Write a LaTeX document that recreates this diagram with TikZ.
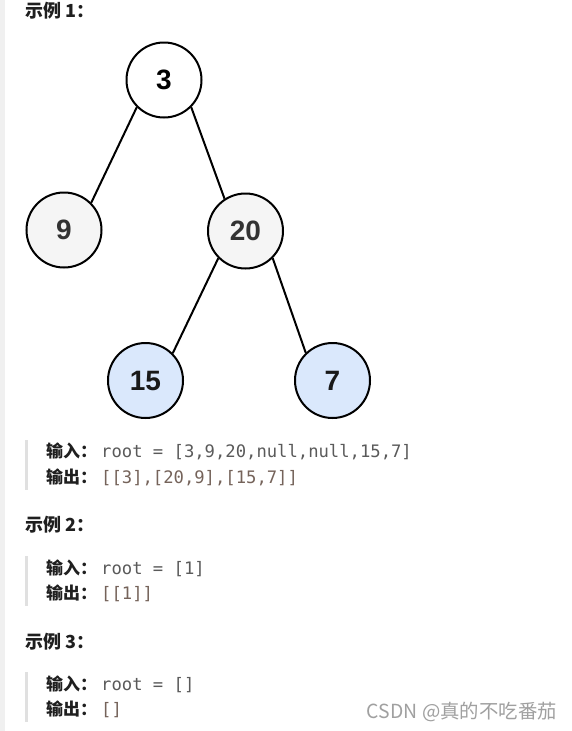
\documentclass[tikz,border=0pt]{standalone}
\usepackage{fontspec}
\setmainfont{Liberation Sans}
\newfontfamily\cjk{Noto Sans CJK SC}
\newfontfamily\codefont{DejaVu Sans Mono}
\definecolor{leafblue}{HTML}{DAE8FC}
\definecolor{midgray}{HTML}{F5F5F5}
\definecolor{barcol}{HTML}{E0E0E0}
\definecolor{pagebar}{HTML}{F0F0F0}
\definecolor{codein}{HTML}{5A5A5A}
\definecolor{codeout}{HTML}{75635A}
\definecolor{wmark}{HTML}{A0A0A0}
\tikzset{
  treenode/.style={circle, draw=black, line width=2pt, minimum size=75pt, inner sep=0pt,
    font=\fontsize{28}{30}\selectfont\bfseries},
  edgeline/.style={line width=2pt, draw=black},
  heading/.style={anchor=base west, inner sep=0pt, font=\cjk\fontsize{18}{20}\selectfont\bfseries, text=black!88},
  label/.style={anchor=base west, inner sep=0pt, font=\cjk\fontsize{17}{19}\selectfont\bfseries, text=black!88},
  codein/.style={anchor=base west, inner sep=0pt, font=\codefont\fontsize{17.2}{19}\selectfont, text=codein},
  codeout/.style={anchor=base west, inner sep=0pt, font=\codefont\fontsize{17.2}{19}\selectfont, text=codeout},
  quotebar/.style={fill=barcol, draw=none},
}
\begin{document}
\begin{tikzpicture}[x=1pt,y=-1pt]
\useasboundingbox (0,0) rectangle (572,731);
\fill[white] (0,0) rectangle (572,731);
\fill[pagebar] (0,0) rectangle (5,731);

% tree
\node[treenode, fill=white, text=black] (n3) at (164,80) {3};
\node[treenode, fill=midgray, text=black!80] (n9) at (64,230) {9};
\node[treenode, fill=midgray, text=black!80] (n20) at (245.5,231) {20};
\node[treenode, fill=leafblue, text=black!90] (n15) at (145.5,380.5) {15};
\node[treenode, fill=leafblue, text=black!90] (n7) at (332.5,380.5) {7};

\draw[edgeline] (n3.225) -- (n9.45);
\draw[edgeline] (n3.-45) -- (n20.123);
\draw[edgeline] (n20.225) -- (n15.45);
\draw[edgeline] (n20.-45) -- (n7.134);

% example 1
\node[heading] (h1) at (25,17) {示例 1：};
\fill[quotebar] (25,440) rectangle (27.5,490);
\node[label] (in1) at (46,457.5) {输入：};
\node[codein] (cin1) at (101,457.5) {root = [3,9,20,null,null,15,7]};
\node[label] (out1) at (46,483.5) {输出：};
\node[codeout] (cout1) at (101,483.5) {[[3],[20,9],[15,7]]};

% example 2
\node[heading] (h2) at (25,531) {示例 2：};
\fill[quotebar] (25,556) rectangle (27.5,606);
\node[label] (in2) at (46,574.5) {输入：};
\node[codein] (cin2) at (101,574.5) {root = [1]};
\node[label] (out2) at (46,599.5) {输出：};
\node[codeout] (cout2) at (101,599.5) {[[1]]};

% example 3
\node[heading] (h3) at (25,648) {示例 3：};
\fill[quotebar] (25,672) rectangle (27.5,722);
\node[label] (in3) at (46,690) {输入：};
\node[codein] (cin3) at (101,690) {root = []};
\node[label] (out3) at (46,715) {输出：};
\node[codeout] (cout3) at (101,715) {[]};

% watermark
\node[anchor=base east, inner sep=0pt, font=\cjk\fontsize{19.4}{21}\selectfont, text=wmark] (wm) at (557,718.5) {CSDN @真的不吃番茄};
\end{tikzpicture}
\end{document}
